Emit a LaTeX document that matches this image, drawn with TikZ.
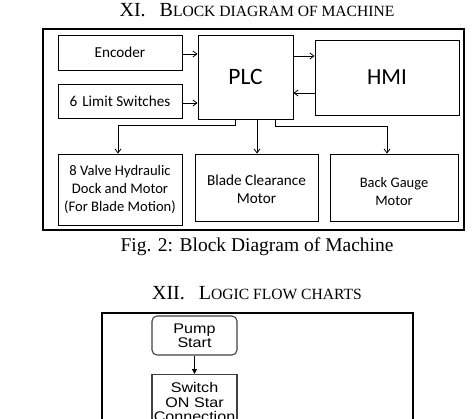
\documentclass[tikz,border=0pt]{standalone}
\usepackage{fontspec}
\setmainfont{Liberation Serif}
\newfontfamily\calfont{Carlito}
\newfontfamily\arfont[FakeStretch=1.15]{Liberation Sans}
\usetikzlibrary{arrows.meta}
\begin{document}
\begin{tikzpicture}[x=1pt,y=-1pt,
  blk/.style={draw,line width=0.9pt,align=center,inner sep=0pt,font=\calfont\fontsize{15.2}{18}\selectfont},
  arr/.style={-{Straight Barb[length=4pt,width=6pt]},line width=0.8pt},
  outer/.style={draw,line width=1.8pt},
  ttl/.style={font=\fontsize{20}{24}\selectfont,inner sep=0pt},
  fc/.style={draw=black!75,line width=1.1pt,align=center,inner sep=0pt,text width=85pt,font=\arfont\fontsize{14}{14.5}\selectfont},
  farr/.style={-{Triangle[length=5pt,width=5pt]},line width=1pt}]
\useasboundingbox (0,0) rectangle (474,418);
\clip (0,0) rectangle (474,418);
% section XI
\node[ttl] (t1) at (257,10) {XI.\hspace{14pt}B{\fontsize{15.6}{18}\selectfont LOCK DIAGRAM OF MACHINE}};
\draw[outer] (43,29) rectangle (464,230);
\node[blk,minimum width=124pt,minimum height=35pt] (enc) at (120,52.5) {Encoder};
\node[blk,minimum width=124pt,minimum height=34pt] (lim) at (120,101) {6\,\,Limit Switches};
\node[blk,minimum width=95pt,minimum height=84pt,font=\calfont\fontsize{23.5}{28}\selectfont] (plc) at (245.5,77) {PLC};
\node[blk,minimum width=144pt,minimum height=75pt,font=\calfont\fontsize{23}{28}\selectfont] (hmi) at (387,77.5) {HMI};
\node[blk,minimum width=124pt,minimum height=71pt,font=\calfont\fontsize{14.6}{18}\selectfont] (b1) at (120,189.5) {8 Valve Hydraulic\\Dock and Motor\\(For Blade Motion)};
\node[blk,minimum width=123pt,minimum height=67pt] (b2) at (256.5,187.5) {\raisebox{-6.8pt}[0pt][0pt]{\begin{tabular}{@{}c@{}}Blade Clearance\\Motor\end{tabular}}};
\node[blk,minimum width=128pt,minimum height=67pt,font=\calfont\fontsize{14.5}{18}\selectfont] (b3) at (394,187.5) {\raisebox{-8.8pt}[0pt][0pt]{\begin{tabular}{@{}c@{}}Back Gauge\\Motor\end{tabular}}};
\coordinate (pa) at (plc.east |- 0,56);
\coordinate (ha) at (hmi.west |- 0,56);
\coordinate (pb) at (plc.east |- 0,93);
\coordinate (hb) at (hmi.west |- 0,93);
\draw[arr] (enc.east |- 0,54) -- (plc.west |- 0,54);
\draw[arr] (lim.east |- 0,103) -- (plc.west |- 0,103);
\draw[arr] (pa) -- (ha);
\draw[arr] (hb) -- (pb);
\coordinate (s1) at (plc.south -| 235,0);
\coordinate (k1) at (235,125);
\coordinate (k2) at (118,125);
\coordinate (e1) at (b1.north -| 118,0);
\draw[arr] (s1) -- (k1) -- (k2) -- (e1);
\coordinate (s2) at (plc.south -| 257,0);
\coordinate (e2) at (b2.north -| 257,0);
\draw[arr] (s2) -- (e2);
\coordinate (s3) at (plc.south -| 275,0);
\coordinate (k3) at (275,126);
\coordinate (k4) at (387,126);
\coordinate (e3) at (b3.north -| 387,0);
\draw[arr] (s3) -- (k3) -- (k4) -- (e3);
\node[ttl,font=\fontsize{19.5}{23}\selectfont] (cap) at (257,247) {Fig. 2: Block Diagram of Machine};
% section XII
\node[ttl] (t2) at (257,293) {XII.\hspace{14pt}L{\fontsize{15.6}{18}\selectfont OGIC FLOW CHARTS}};
\draw[outer,line width=1.4pt] (102,313) rectangle (413,440);
\node[fc,rounded corners=5pt,minimum height=39pt] (pump) at (194.5,335.5) {Pump\\Start};
\node[fc,minimum height=70pt,anchor=north,text depth=44pt] (sw) at (194.5,374) {Switch\\ON Star\\Connection};
\draw[farr] (pump) -- (sw);
\end{tikzpicture}
\end{document}
